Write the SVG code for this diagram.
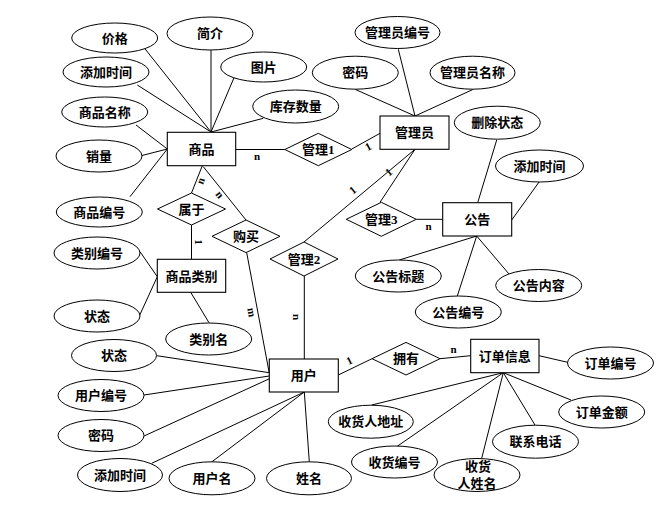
<svg xmlns="http://www.w3.org/2000/svg" width="670" height="509" viewBox="0 0 670 509">
<style>
.a{fill:#fff;stroke:#000;stroke-width:1}
.e{fill:#fff;stroke:#000;stroke-width:1.4}
.r{fill:#fff;stroke:#000;stroke-width:1.1}
.l{stroke:#000;stroke-width:1;fill:none}
text{font-family:"Liberation Serif","Noto Sans CJK SC",serif;font-size:13px;font-weight:bold;text-anchor:middle;fill:#000}
.c{font-size:11px}
</style>
<rect width="670" height="509" fill="#fff"/>
<g id="connectors">
<line class="l" x1="143.3" y1="46.7" x2="211" y2="132"/>
<line class="l" x1="211" y1="50" x2="211" y2="132"/>
<line class="l" x1="137.3" y1="85" x2="211" y2="132"/>
<line class="l" x1="234.3" y1="77" x2="211" y2="132"/>
<line class="l" x1="263.3" y1="118.3" x2="211" y2="132"/>
<line class="l" x1="136" y1="125" x2="167.3" y2="149"/>
<line class="l" x1="140" y1="156" x2="167.3" y2="149"/>
<line class="l" x1="130" y1="196.7" x2="167.3" y2="149"/>
<line class="l" x1="235.7" y1="149.5" x2="284.8" y2="149.5"/>
<line class="l" x1="202.3" y1="165.7" x2="191.5" y2="193"/>
<line class="l" x1="203.3" y1="166.7" x2="246" y2="220"/>
<line class="l" x1="191.5" y1="225" x2="191.5" y2="259.3"/>
<line class="l" x1="140" y1="251.7" x2="157.3" y2="276.7"/>
<line class="l" x1="139.3" y1="316" x2="157.3" y2="276.7"/>
<line class="l" x1="190.7" y1="292.3" x2="209" y2="322.7"/>
<line class="l" x1="246.7" y1="252.7" x2="269.3" y2="373.3"/>
<line class="l" x1="304.3" y1="276" x2="304.3" y2="359"/>
<line class="l" x1="156.7" y1="355.7" x2="269.3" y2="372.7"/>
<line class="l" x1="144" y1="395" x2="269.3" y2="376"/>
<line class="l" x1="144" y1="436" x2="271.7" y2="377.7"/>
<line class="l" x1="151.7" y1="463.3" x2="304.3" y2="392"/>
<line class="l" x1="210.7" y1="462.7" x2="304.3" y2="392"/>
<line class="l" x1="309.3" y1="461.7" x2="304.3" y2="392"/>
<line class="l" x1="398.3" y1="49.3" x2="415" y2="116"/>
<line class="l" x1="355" y1="89.3" x2="415" y2="116"/>
<line class="l" x1="473.3" y1="89.3" x2="415" y2="116"/>
<line class="l" x1="351.8" y1="149" x2="380" y2="133.3"/>
<line class="l" x1="415" y1="149.3" x2="304" y2="242"/>
<line class="l" x1="415" y1="149.3" x2="380" y2="202.3"/>
<line class="l" x1="416.3" y1="219.3" x2="442.7" y2="219.3"/>
<line class="l" x1="496.7" y1="140" x2="477.7" y2="202.7"/>
<line class="l" x1="539.3" y1="181.7" x2="511.7" y2="220"/>
<line class="l" x1="476.7" y1="236" x2="399.3" y2="260"/>
<line class="l" x1="476.7" y1="236" x2="457.3" y2="296"/>
<line class="l" x1="476.7" y1="236" x2="510.7" y2="276"/>
<line class="l" x1="338.3" y1="375" x2="372" y2="358.7"/>
<line class="l" x1="440" y1="358.7" x2="470.7" y2="355.7"/>
<line class="l" x1="539" y1="355.7" x2="567.7" y2="362.3"/>
<line class="l" x1="503.3" y1="372.7" x2="371.7" y2="405"/>
<line class="l" x1="503.3" y1="372.7" x2="396.7" y2="446.7"/>
<line class="l" x1="503.3" y1="372.7" x2="481.7" y2="458.3"/>
<line class="l" x1="503.3" y1="372.7" x2="535" y2="425"/>
<line class="l" x1="503.3" y1="372.7" x2="571" y2="400"/>
<text class="c" x="257" y="160">n</text>
<text class="c" transform="translate(204,182) rotate(-70)">n</text>
<text class="c" transform="translate(217,197) rotate(51)">n</text>
<text class="c" transform="translate(195,242) rotate(90)">1</text>
<text class="c" transform="translate(248,313) rotate(80)">m</text>
<text class="c" transform="translate(293,317) rotate(90)">n</text>
<text class="c" transform="translate(370,150) rotate(-28)">1</text>
<text class="c" transform="translate(391,175) rotate(-40)">1</text>
<text class="c" transform="translate(355,193) rotate(-40)">1</text>
<text class="c" x="428.5" y="230">n</text>
<text class="c" transform="translate(351,364) rotate(-26)">1</text>
<text class="c" x="453.5" y="353">n</text>
</g>
<g id="商品"><rect class="r" x="167.3" y="132.3" width="68.4" height="33.4"/><text x="201.5" y="153.5">商品</text></g>
<g id="管理员"><rect class="r" x="380" y="116" width="69" height="33.3"/><text x="414.5" y="137">管理员</text></g>
<g id="公告"><rect class="r" x="442.7" y="202.7" width="69" height="33.3"/><text x="477.2" y="224">公告</text></g>
<g id="商品类别"><rect class="r" x="157.3" y="259.3" width="68.4" height="33"/><text x="191.5" y="280.5">商品类别</text></g>
<g id="用户"><rect class="r" x="269.3" y="359" width="69" height="33"/><text x="303.8" y="380">用户</text></g>
<g id="订单信息"><rect class="r" x="470.7" y="339.3" width="68.3" height="33.4"/><text x="504.8" y="360.5">订单信息</text></g>
<g id="管理1"><polygon class="a" points="284.8,149.5 318.3,133.3 351.8,149.5 318.3,165.7"/><text x="318.3" y="154">管理1</text></g>
<g id="属于"><polygon class="a" points="157.5,209 191.5,193 225.5,209 191.5,225"/><text x="191.5" y="213.5">属于</text></g>
<g id="购买"><polygon class="a" points="212,236.3 246,220 280,236.3 246,252.6"/><text x="246" y="240.8">购买</text></g>
<g id="管理2"><polygon class="a" points="270,259 304,242 338,259 304,276"/><text x="304" y="263.5">管理2</text></g>
<g id="管理3"><polygon class="a" points="346.3,219.3 381.3,202.3 416.3,219.3 381.3,236.3"/><text x="381.3" y="223.8">管理3</text></g>
<g id="拥有"><polygon class="a" points="372,358.7 406,342.4 440,358.7 406,375"/><text x="406" y="363.2">拥有</text></g>
<g id="价格"><ellipse class="a" cx="114.7" cy="38" rx="43" ry="15"/><text x="114.7" y="42.5">价格</text></g>
<g id="简介"><ellipse class="a" cx="210" cy="33.5" rx="43" ry="16.5"/><text x="210" y="38">简介</text></g>
<g id="商品添加时间"><ellipse class="a" cx="106" cy="72" rx="43" ry="15"/><text x="106" y="76.5">添加时间</text></g>
<g id="图片"><ellipse class="a" cx="263.7" cy="67" rx="43" ry="15"/><text x="263.7" y="71.5">图片</text></g>
<g id="商品名称"><ellipse class="a" cx="104.7" cy="112" rx="43" ry="15"/><text x="104.7" y="116.5">商品名称</text></g>
<g id="库存数量"><ellipse class="a" cx="295.7" cy="106.5" rx="43" ry="16.5"/><text x="295.7" y="111">库存数量</text></g>
<g id="销量"><ellipse class="a" cx="99" cy="156" rx="43" ry="16"/><text x="99" y="160.5">销量</text></g>
<g id="商品编号"><ellipse class="a" cx="99.3" cy="212" rx="43" ry="15"/><text x="99.3" y="216.5">商品编号</text></g>
<g id="管理员编号"><ellipse class="a" cx="397.5" cy="32.5" rx="42.5" ry="16"/><text x="397.5" y="37">管理员编号</text></g>
<g id="管理员密码"><ellipse class="a" cx="355.3" cy="72.7" rx="43" ry="16.5"/><text x="355.3" y="77.2">密码</text></g>
<g id="管理员名称"><ellipse class="a" cx="472.5" cy="72.7" rx="42.5" ry="16.5"/><text x="472.5" y="77.2">管理员名称</text></g>
<g id="删除状态"><ellipse class="a" cx="497.3" cy="122.7" rx="43" ry="16.5"/><text x="497.3" y="127.2">删除状态</text></g>
<g id="公告添加时间"><ellipse class="a" cx="539.5" cy="166" rx="44" ry="16"/><text x="539.5" y="170.5">添加时间</text></g>
<g id="公告标题"><ellipse class="a" cx="398.3" cy="276" rx="43" ry="16"/><text x="398.3" y="280.5">公告标题</text></g>
<g id="公告编号"><ellipse class="a" cx="458.3" cy="312" rx="43" ry="16"/><text x="458.3" y="316.5">公告编号</text></g>
<g id="公告内容"><ellipse class="a" cx="538.7" cy="285.5" rx="43" ry="16"/><text x="538.7" y="290">公告内容</text></g>
<g id="类别编号"><ellipse class="a" cx="97" cy="253" rx="43" ry="16"/><text x="97" y="257.5">类别编号</text></g>
<g id="类别状态"><ellipse class="a" cx="97" cy="316" rx="43" ry="16"/><text x="97" y="320.5">状态</text></g>
<g id="类别名"><ellipse class="a" cx="208.7" cy="339" rx="43" ry="16"/><text x="208.7" y="343.5">类别名</text></g>
<g id="用户状态"><ellipse class="a" cx="114" cy="355.5" rx="42.5" ry="16"/><text x="114" y="360">状态</text></g>
<g id="用户编号"><ellipse class="a" cx="101" cy="395.5" rx="43" ry="16"/><text x="101" y="400">用户编号</text></g>
<g id="用户密码"><ellipse class="a" cx="101" cy="435.5" rx="43" ry="16"/><text x="101" y="440">密码</text></g>
<g id="用户添加时间"><ellipse class="a" cx="120" cy="475" rx="42.5" ry="16.5"/><text x="120" y="479.5">添加时间</text></g>
<g id="用户名"><ellipse class="a" cx="212" cy="478.3" rx="43" ry="16.5"/><text x="212" y="482.8">用户名</text></g>
<g id="姓名"><ellipse class="a" cx="309" cy="478.3" rx="42.5" ry="16.5"/><text x="309" y="482.8">姓名</text></g>
<g id="订单编号"><ellipse class="a" cx="610.5" cy="363" rx="43" ry="16"/><text x="610.5" y="367.5">订单编号</text></g>
<g id="订单金额"><ellipse class="a" cx="601.7" cy="412" rx="43" ry="16"/><text x="601.7" y="416.5">订单金额</text></g>
<g id="联系电话"><ellipse class="a" cx="535.5" cy="441.7" rx="43" ry="16.5"/><text x="535.5" y="446.2">联系电话</text></g>
<g id="收货人地址"><ellipse class="a" cx="370.8" cy="421.7" rx="42.5" ry="16.5"/><text x="370.8" y="426.2">收货人地址</text></g>
<g id="收货编号"><ellipse class="a" cx="394.5" cy="462" rx="43" ry="16"/><text x="394.5" y="466.5">收货编号</text></g>
<g id="收货人姓名"><ellipse class="a" cx="477" cy="475" rx="43" ry="16.5"/><text x="478" y="471">收货</text><text x="477" y="488">人姓名</text></g>
</svg>
